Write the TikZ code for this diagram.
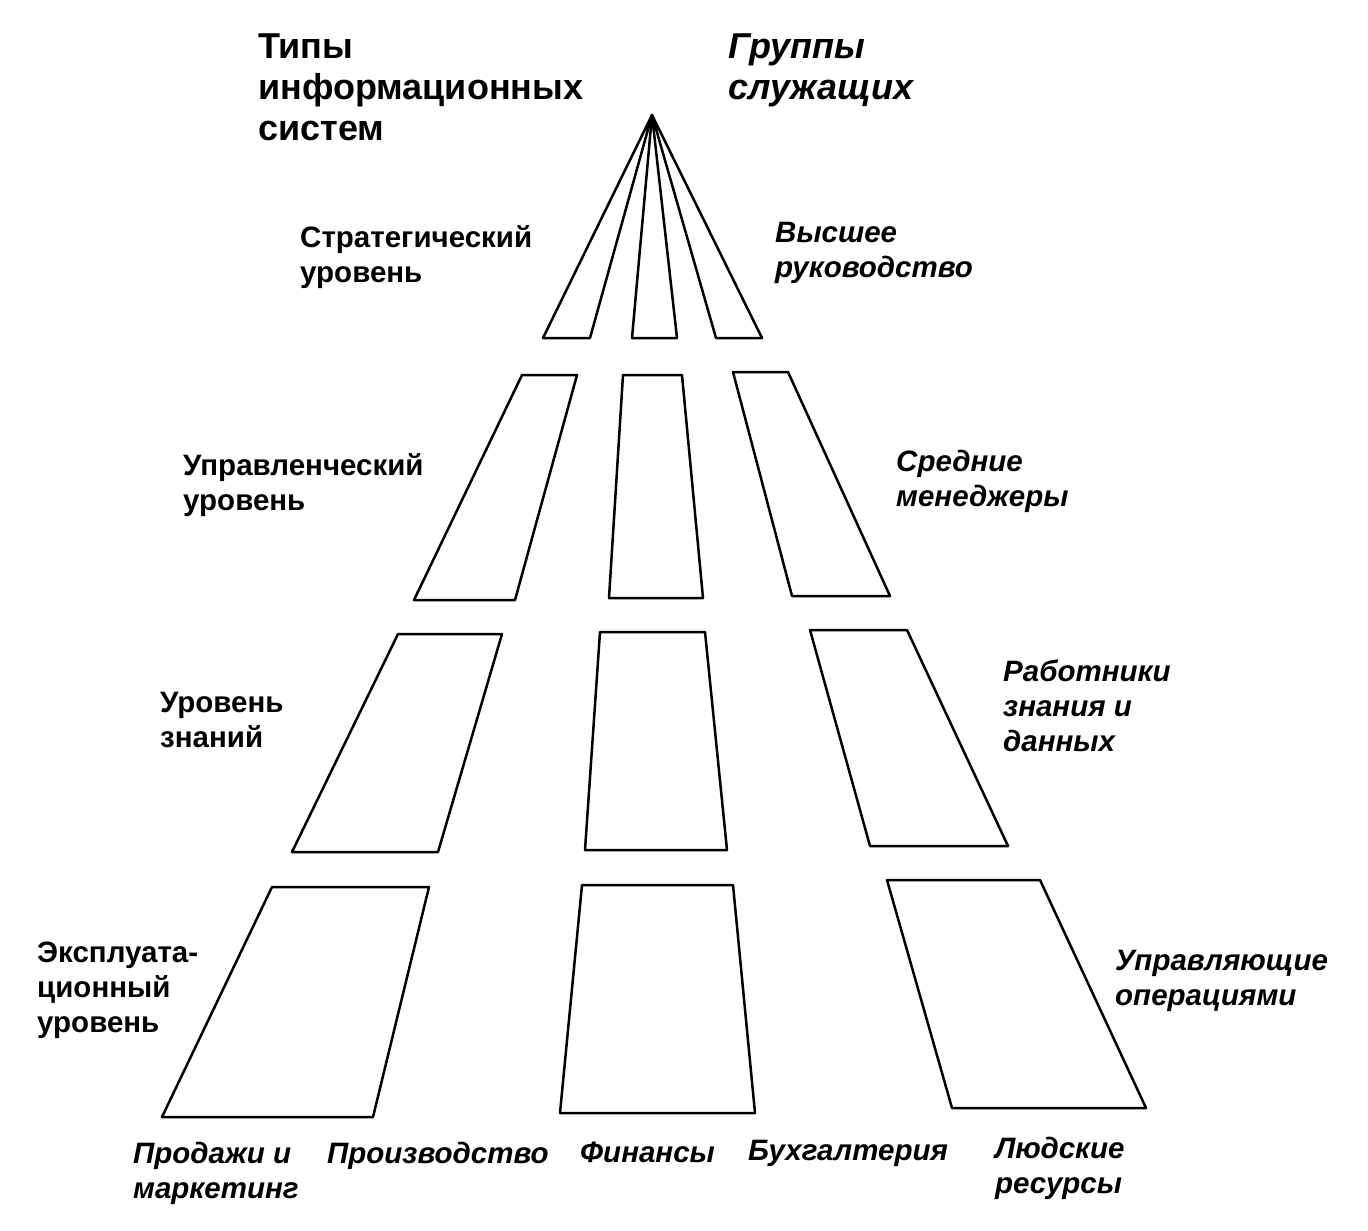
\documentclass[tikz,border=0pt]{standalone}
\usepackage{fontspec}
\setmainfont{Liberation Sans}
\begin{document}
\begin{tikzpicture}[x=1pt,y=-1pt,
  sh/.style={draw=black,line width=2.5pt,line join=round},
  lab/.style={anchor=north west,align=left,inner sep=0pt,font=\fontsize{29.5}{35}\selectfont\bfseries},
  ilab/.style={lab,font=\fontsize{29.5}{35}\selectfont\bfseries\itshape},
  hd/.style={lab,font=\fontsize{36}{41}\selectfont\bfseries},
  ihd/.style={lab,font=\fontsize{36}{41}\selectfont\bfseries\itshape}]
\useasboundingbox (0,0) rectangle (1368,1231);
\coordinate (apex) at (652,115);
% strategic level
\draw[sh] (apex) -- (543,338) -- (590,338) -- cycle;
\draw[sh] (apex) -- (632,338) -- (677,338) -- cycle;
\draw[sh] (apex) -- (716,338) -- (762,338) -- cycle;
% management level
\draw[sh] (522,375) -- (577,375) -- (515,600) -- (414,600) -- cycle;
\draw[sh] (623,375) -- (682,375) -- (703,598) -- (609,598) -- cycle;
\draw[sh] (733,372) -- (788,372) -- (890,596) -- (792,596) -- cycle;
% knowledge level
\draw[sh] (398,634) -- (502,634) -- (438,852) -- (292,852) -- cycle;
\draw[sh] (600,632) -- (705,632) -- (727,850) -- (585,850) -- cycle;
\draw[sh] (810,630) -- (907,630) -- (1008,846) -- (870,846) -- cycle;
% operational level
\draw[sh] (272,887) -- (429,887) -- (373,1117) -- (162,1117) -- cycle;
\draw[sh] (582,885) -- (733,885) -- (755,1113) -- (560,1113) -- cycle;
\draw[sh] (887,880) -- (1040,880) -- (1146,1108) -- (952,1108) -- cycle;
% headers
\node[hd] (h1) at (258,34) {Типы\\информационных\\систем};
\node[ihd] (h2) at (728,34) {Группы\\служащих};
% left labels
\node[lab] (l1) at (300,225) {Стратегический\\уровень};
\node[lab] (l2) at (183,453) {Управленческий\\уровень};
\node[lab] (l3) at (160,692) {Уровень\\знаний};
\node[lab] (l4) at (37,942) {Эксплуата-\\ционный\\уровень};
% right labels
\node[ilab] (r1) at (775,222) {Высшее\\руководство};
\node[ilab] (r2) at (896,450) {Средние\\менеджеры};
\node[ilab] (r3) at (1003,660) {Работники\\знания и\\данных};
\node[ilab] (r4) at (1115,950) {Управляющие\\операциями};
% bottom labels
\node[ilab] (b1) at (133,1142) {Продажи и\\маркетинг};
\node[ilab] (b2) at (327,1142) {Производство};
\node[ilab] (b3) at (580,1142) {Финансы};
\node[ilab] (b4) at (748,1140) {Бухгалтерия};
\node[ilab] (b5) at (995,1137) {Людские\\ресурсы};
\end{tikzpicture}
\end{document}
